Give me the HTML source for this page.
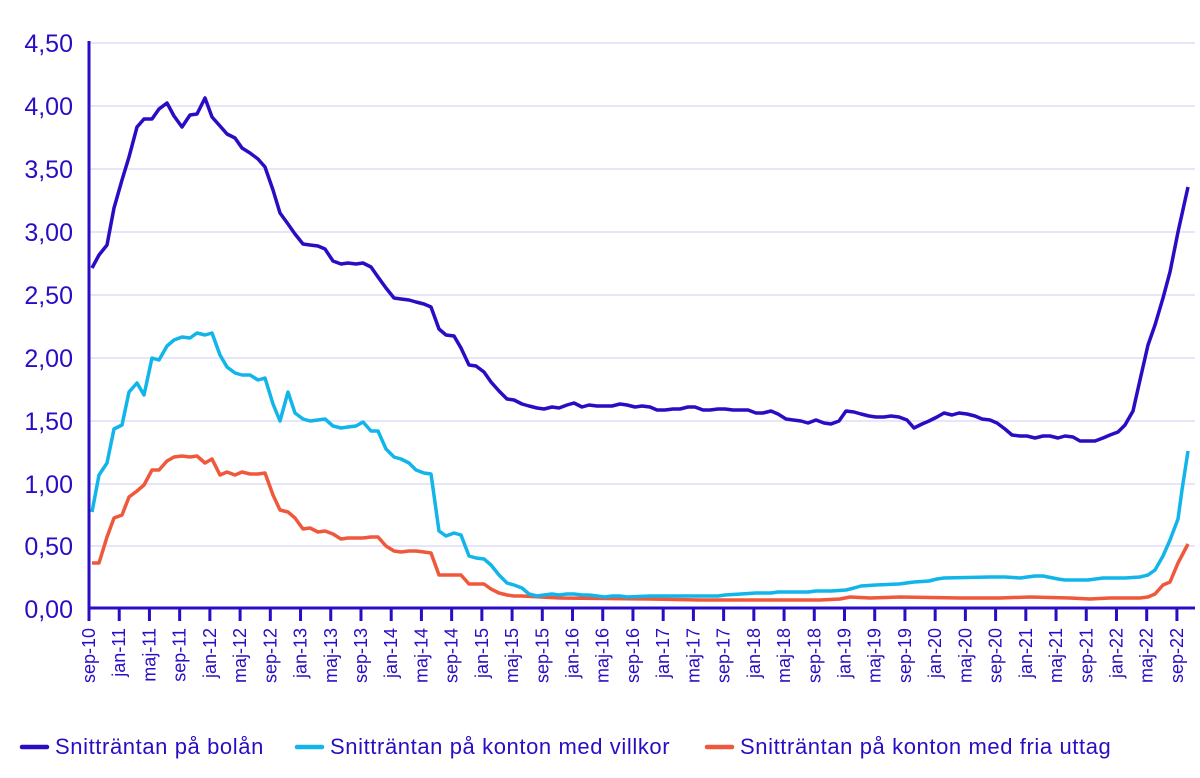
<!DOCTYPE html>
<html><head><meta charset="utf-8"><style>
body{margin:0;background:#fff;}
svg text{font-family:"Liberation Sans",sans-serif;fill:#2a0cc4;}
</style></head><body>
<svg width="1200" height="773" viewBox="0 0 1200 773" xmlns="http://www.w3.org/2000/svg">
<g stroke="#d8d6f4" stroke-width="1.2">
<line x1="89" x2="1195" y1="43" y2="43"/><line x1="89" x2="1195" y1="106" y2="106"/>
<line x1="89" x2="1195" y1="169" y2="169"/><line x1="89" x2="1195" y1="232" y2="232"/>
<line x1="89" x2="1195" y1="295" y2="295"/><line x1="89" x2="1195" y1="358" y2="358"/>
<line x1="89" x2="1195" y1="421" y2="421"/><line x1="89" x2="1195" y1="484" y2="484"/>
<line x1="89" x2="1195" y1="546" y2="546"/>
</g>
<g font-size="25" text-anchor="end">
<text x="73" y="52">4,50</text><text x="73" y="115">4,00</text><text x="73" y="178">3,50</text>
<text x="73" y="241">3,00</text><text x="73" y="304">2,50</text><text x="73" y="367">2,00</text>
<text x="73" y="430">1,50</text><text x="73" y="493">1,00</text><text x="73" y="555">0,50</text>
<text x="73" y="618">0,00</text>
</g>
<g fill="none" stroke-width="3.5" stroke-linejoin="round">
<polyline stroke="#f0583c" points="92,563 99,563 107,537 114,518 122,515 129,497 137,491 144,485 152,470 159,470 167,461 174,457 182,456 190,457 197,456 205,463 212,459 220,475 227,472 235,475 242,472 250,474 258,474 265,473 273,495 280,510 288,512 295,518 303,529 310,528 318,532 325,531 333,534 341,539 348,538 356,538 363,538 371,537 378,537 386,546 394,551 401,552 409,551 416,551 424,552 431,553 439,575 446,575 454,575 461,575 469,584 476,584 484,584 491,589 499,593 507,595 514,596 522,596 560,598 650,599 700,600 760,600 820,600 840,599 850,597 870,598 900,597 960,598 1000,598 1030,597 1070,598 1090,599 1110,598 1140,598 1148,597 1155,594 1163,585 1170,582 1178,563 1188,544"/>
<polyline stroke="#12b5ea" points="92,512 99,475 107,463 114,429 122,425 129,392 137,383 144,395 152,358 159,360 167,346 174,340 182,337 190,338 197,333 205,335 212,333 220,355 227,367 235,373 242,375 250,375 258,380 265,378 273,404 280,421 288,392 295,413 303,419 310,421 318,420 325,419 333,426 341,428 348,427 356,426 363,422 371,431 378,431 386,449 394,457 401,459 409,463 416,470 424,473 431,474 439,531 446,536 454,533 461,535 469,556 476,558 484,559 491,565 499,575 507,583 514,585 522,588 529,594 537,596 544,595 552,594 559,595 567,594 574,594 582,595 589,595 597,596 605,597 612,596 620,596 627,597 650,596 700,596 718,596 725,595 741,594 756,593 771,593 778,592 808,592 816,591 831,591 846,590 854,588 861,586 876,585 899,584 914,582 929,581 937,579 944,578 990,577 1005,577 1020,578 1035,576 1043,576 1058,579 1065,580 1088,580 1103,578 1125,578 1140,577 1148,575 1155,570 1163,556 1170,540 1178,519 1182,490 1188,451"/>
<polyline stroke="#2a0cc4" points="92,268 99,255 107,245 114,208 122,180 129,157 137,127 144,119 152,119 159,109 167,103 174,116 182,127 190,115 197,114 205,98 212,117 220,126 227,134 235,138 242,148 250,153 258,159 265,167 273,190 280,213 288,224 295,234 303,244 310,245 318,246 325,249 333,261 341,264 348,263 356,264 363,263 371,267 378,277 386,288 394,298 401,299 409,300 416,302 424,304 431,307 439,329 446,335 454,336 461,348 469,365 476,366 484,372 491,382 499,391 507,399 514,400 522,404 529,406 537,408 544,409 552,407 559,408 567,405 574,403 582,407 589,405 597,406 605,406 612,406 620,404 627,405 635,407 642,406 650,407 657,410 665,410 673,409 680,409 688,407 695,407 703,410 710,410 718,409 725,409 733,410 741,410 748,410 756,413 763,413 771,411 778,414 786,419 793,420 801,421 808,423 816,420 824,423 831,424 839,421 846,411 854,412 861,414 869,416 876,417 884,417 891,416 899,417 907,420 914,428 922,424 929,421 937,417 944,413 952,415 959,413 967,414 975,416 982,419 990,420 997,423 1005,429 1012,435 1020,436 1027,436 1035,438 1043,436 1050,436 1058,438 1065,436 1073,437 1080,441 1088,441 1095,441 1103,438 1110,435 1118,432 1125,425 1133,411 1140,380 1148,345 1155,325 1163,298 1170,272 1178,232 1188,187"/>
</g>
<g stroke="#2a0cc4" stroke-width="3">
<line x1="89" x2="89" y1="41" y2="621"/>
<line x1="88" x2="1195" y1="608" y2="608"/>
</g>
<g id="ticks" stroke="#2a0cc4" stroke-width="3"></g>
<g id="xl" font-size="18"></g>
<g stroke-width="4.5" stroke-linecap="round">
<line x1="22" x2="47" y1="747" y2="747" stroke="#2a0cc4"/>
<line x1="297" x2="322" y1="747" y2="747" stroke="#12b5ea"/>
<line x1="707" x2="732" y1="747" y2="747" stroke="#f0583c"/>
</g>
<g font-size="22" letter-spacing="0.6">
<text x="55" y="754">Snitträntan på bolån</text>
<text x="330" y="754">Snitträntan på konton med villkor</text>
<text x="740" y="754">Snitträntan på konton med fria uttag</text>
</g>
<script>
var t=document.getElementById('ticks'),xl=document.getElementById('xl'),ns='http://www.w3.org/2000/svg';
var m=['sep','jan','maj'];
for(var i=0;i<=36;i++){var x=89+i*30.22;
var l=document.createElementNS(ns,'line');l.setAttribute('x1',x);l.setAttribute('x2',x);l.setAttribute('y1',608);l.setAttribute('y2',621);t.appendChild(l);
var yr=10+Math.floor((i+2)/3);var s=m[i%3]+'-'+yr;
var tx=document.createElementNS(ns,'text');tx.setAttribute('transform','translate('+(x+6)+',628) rotate(-90)');tx.setAttribute('text-anchor','end');tx.textContent=s;xl.appendChild(tx);}
</script>
</svg>
</body></html>
